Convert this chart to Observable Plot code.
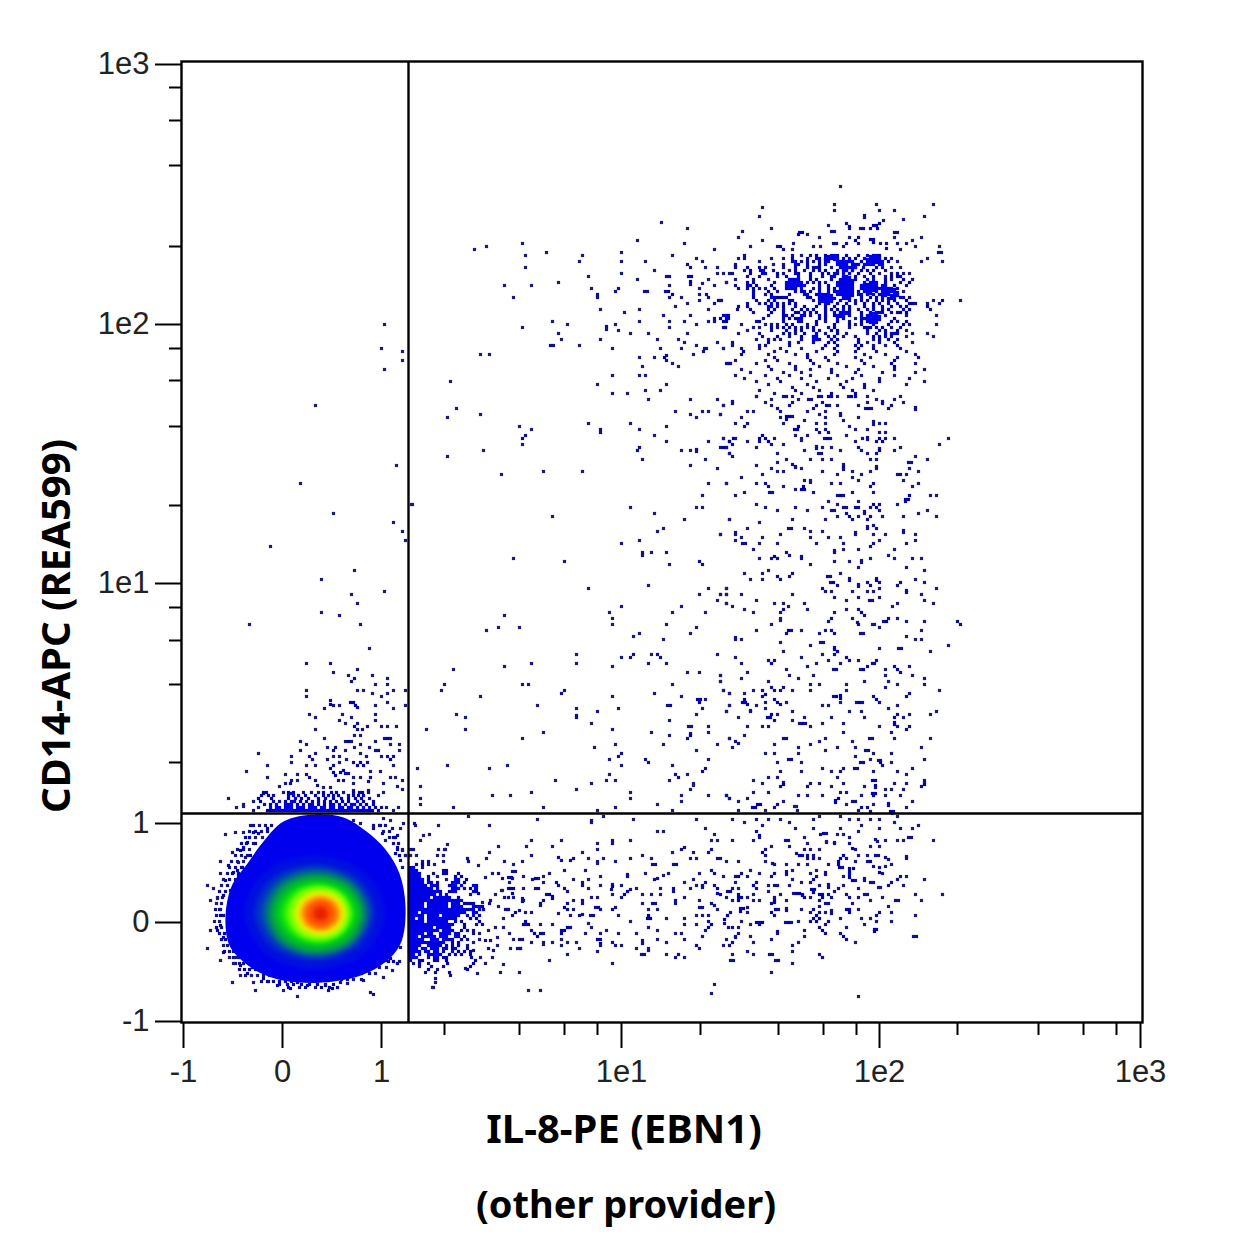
<!DOCTYPE html>
<html><head><meta charset="utf-8">
<script src="https://cdn.jsdelivr.net/npm/d3@7"></script>
<script src="https://cdn.jsdelivr.net/npm/@observablehq/plot@0.6"></script>
<style>html,body{margin:0;padding:0;background:#fff}svg{display:block}</style>
</head><body><div id="chart"></div>
<script>
// All positions are cytometer display channels, mapped through Plot's x and y scales.
const xTitle = "IL-8-PE (EBN1)";
const xSubtitle = "(other provider)";
const yTitle = "CD14-APC (REA599)";
const xMajorChannels = [0,99,198,438,696,957];
const xMajorLabels = ["-1","0","1","1e1","1e2","1e3"];
const xMinorChannels = [261,336,381,414,517,595,640,673,774,855,900,933];
const yMajorChannels = [0,99,198,438,697,957];
const yMajorLabels = ["-1","0","1","1e1","1e2","1e3"];
const yMinorChannels = [259,337,381,414,516,595,641,673,775,856,901,934];
const gateX = 225;
const gateY = 208;

// isolated events, [x,y,x,y,...]
const upperMiddleEvents = [478,799,504,793,454,781,501,778,339,778,303,775,291,772,531,772,342,766,363,769,399,766,438,769,489,766,513,763,519,760,396,760,438,760,462,760,504,757,507,754,522,754,534,754,342,754,471,751,438,748,534,748,546,748,405,745,483,745,486,745,505,745,508,745,454,742,525,742,375,739,507,740,507,737,519,738,516,733,543,739,321,736,348,736,486,736,531,736,408,733,435,733,432,730,461,730,464,730,482,730,485,730,414,727,414,724,489,727,486,724,516,727,523,727,525,724,330,724,498,724,516,721,535,721,538,721,504,718,531,718,492,715,417,712,456,712,525,712,441,709,480,706,507,706,543,706,369,700,456,700,486,700,501,700,525,700,531,703,531,700,537,703,543,703,543,700,542,694,540,694,384,697,432,697,513,697,339,694,423,695,423,692,486,694,435,691,375,688,447,688,465,688,504,688,378,682,417,682,474,682,495,682,501,679,534,679,367,676,370,676,396,676,513,676,429,673,477,673,498,673,540,673,521,673,520,670,523,673,510,667,297,667,306,667,456,664,471,664,483,666,481,664,483,661,489,658,495,655,459,655,544,658,547,658,429,646,456,646,462,646,267,640,414,637,483,637,462,631,477,631,429,628,444,628,465,622,507,622,534,622,540,616,273,613,492,610,519,610,525,610,507,607,537,607,297,607,264,604,513,604,405,598,447,598,336,595,483,595,348,592,456,592,417,592,417,589,342,586,339,583,471,586,540,583,546,580,483,580,525,580,339,577,456,574,454,571,537,574,543,574,300,571,498,571,507,571,513,572,513,570,546,568,264,565,459,562,522,562,507,556,534,553,360,550,399,550,318,547,525,538,543,538,519,526,229,517,447,514,513,514,519,514];
const lowerMiddleEvents = [369,505,471,508,501,502,546,502,474,490,480,493,537,487,456,481,438,478,459,469,459,466,468,469,483,469,330,463,381,460,516,460,519,457,486,457,405,433,465,436,525,433,543,433,516,427,537,427,543,427,534,421,543,418,438,415,498,415,426,409,489,409,522,409,321,406,429,403,429,397,483,397,315,394,336,394,513,394,303,391,507,388,456,388,450,385,480,382,393,367,450,367,447,364,438,364,468,367,474,367,477,364,534,367,348,358,393,358,465,358,483,358,321,355,429,355,270,352,504,349,516,349,537,346,537,340,261,337,339,337,345,337,489,337,258,331,381,331,378,328,540,331,546,328,471,328,297,325,429,325,498,325,514,322,517,322,516,319,522,322,354,316,484,316,487,316,546,316,393,313,435,313,519,313,414,310,543,310,273,307,513,307,393,306,393,304,282,304,486,301,408,298,505,295,508,295,525,295,243,292,282,292,429,292,360,289,468,289,507,288,507,286,525,289,486,286,339,283,504,283,546,283,432,277,480,277,534,277,411,274,513,271,438,268,435,265,426,262,462,262,465,259,525,262,264,256,324,256,438,256,489,256,234,253,306,253,522,253,519,250,426,247,492,247,495,244,504,247,372,241,423,241,432,241,486,241,408,238,510,238,510,236,507,232,237,235,393,232,447,229,348,229,309,226,327,226,498,226,525,226,543,226,546,223,237,223,447,223,498,220,237,217,474,217,270,214,360,214,432,214,414,211,489,211];
const tailEvents = [285,205,354,202,408,201,408,199,420,205,450,202,513,202,231,198,255,196,306,196,522,193,474,190,480,190,531,187,240,186,246,187,237,181,348,181,378,181,429,181,429,178,447,181,528,181,534,181,414,178,369,175,343,175,315,175,264,177,261,172,414,172,501,174,498,172,528,172,525,169,255,172,306,169,399,169,489,169,510,169,348,166,303,163,375,164,378,161,387,161,390,163,405,163,420,163,447,163,459,166,468,163,507,163,513,163,534,163,284,163,285,160,321,160,339,160,414,160,414,158,432,160,469,157,472,157,490,157,493,157,330,157,295,156,329,150,332,150,381,151,402,151,480,146,485,148,462,148,366,148,315,148,516,148,528,151,531,148,444,147,444,145,417,145,390,142,405,142,474,143,471,142,340,145,325,144,328,144,352,143,355,143,349,142,360,145,360,139,373,139,375,136,381,133,384,130,510,142,399,139,399,136,417,136,429,137,429,135,428,132,501,139,522,139,519,134,519,136,513,136,531,136,326,139,438,136,405,133,444,130,441,127,438,124,447,132,453,133,477,133,477,127,490,133,490,130,340,133,325,133,330,133,318,131,352,133,355,133,507,133,534,133,534,128,363,127,366,127,369,125,369,123,459,127,468,127,390,121,399,121,399,118,408,124,414,124,429,127,501,124,516,121,339,123,339,120,312,127,321,124,330,124,492,121,492,118,329,128,357,118,357,116,360,121,469,118,472,118,528,118,516,114,519,114,384,118,381,114,384,112,390,112,412,114,415,114,417,112,432,114,429,112,459,118,474,112,465,112,534,112,531,116,375,108,348,109,342,109,336,111,332,109,329,106,322,112,325,112,435,106,387,106,396,106,399,107,407,106,410,106,465,106,464,103,467,103,513,106,519,106,525,106,501,103,483,103,447,100,342,100,342,97,340,97,345,97,405,98,408,94,369,97,357,97,501,97,513,97,525,100,528,97,525,94,522,91,384,94,387,94,381,91,378,91,423,91,417,88,465,94,474,91,348,91,351,88,354,85,357,88,360,88,435,88,453,88,492,88,498,88,378,88,402,88,519,85,378,82,414,82,417,82,417,78,417,76,429,79,438,76,459,81,459,78,474,82,501,82,336,82,339,82,334,73,337,73,348,79,360,79,360,77,369,79,384,79,393,79,378,76,396,73,483,79,513,76,516,73,432,76,453,73,465,73,465,71,414,70,384,67,458,67,461,67,483,67,495,67,492,64,501,64,366,61,429,58,336,49,345,31,357,31,531,37,528,28];
const tailRootEvents = [306,118,315,115,324,112,320,103,312,94,320,94,326,88,330,82,314,84,314,76,310,71,309,64,320,57,317,49,327,73,337,73,307,81,307,121,319,131,327,133,329,143,319,143,325,124,340,121,309,148,302,144,292,133,299,119,295,128,302,81,290,71,297,64,302,58,294,48,282,53,267,46,252,39,249,34];
const lowerRightEvents = [549,202,561,199,573,202,585,202,597,202,606,199,579,196,630,202,636,205,657,205,666,202,675,202,687,202,696,202,711,199,709,208,714,205,678,196,735,196,729,193,612,193,630,193,657,193,696,193,717,193,573,190,675,190,576,186,576,184,640,188,643,188,637,187,643,179,643,180,654,187,660,187,666,184,621,184,549,181,570,181,602,181,605,181,651,179,651,178,692,182,694,180,702,181,696,175,714,181,720,181,725,184,728,184,750,181,624,178,666,178,669,173,588,175,606,175,687,175,672,172,582,172,579,169,582,166,621,172,627,172,636,172,613,168,616,166,619,166,624,166,630,166,660,166,657,163,655,157,655,160,656,154,659,154,663,163,675,166,672,160,684,166,692,166,695,166,702,164,705,162,723,165,723,163,636,163,630,163,624,163,537,163,543,160,555,160,582,160,589,158,591,157,684,160,687,160,690,155,603,157,615,157,624,157,645,157,696,154,696,149,699,148,702,155,708,157,567,151,558,148,576,148,591,148,588,145,603,150,603,147,609,151,633,151,627,148,633,145,630,142,642,149,642,147,666,153,666,150,666,147,666,144,669,141,672,141,670,153,660,145,540,145,552,145,555,145,564,145,681,143,681,141,717,145,714,142,723,145,741,142,609,142,552,139,573,139,570,136,573,133,618,139,627,139,645,137,645,134,660,136,655,133,651,130,687,139,690,139,708,139,705,136,585,136,585,130,591,136,594,136,606,136,636,136,720,136,695,134,697,134,549,133,544,130,547,130,555,133,555,127,628,132,631,132,630,129,675,133,610,128,613,128,616,128,619,127,619,126,636,127,639,127,645,127,663,127,666,124,681,127,684,127,597,127,591,124,591,121,591,119,570,127,537,127,732,127,759,127,543,124,555,124,558,124,564,124,570,121,576,121,549,121,555,121,603,121,621,124,627,124,636,121,639,124,648,124,675,124,687,121,699,124,712,121,715,121,738,121,669,118,642,118,645,118,588,118,636,115,636,109,557,113,560,113,557,110,564,114,564,109,603,113,603,111,592,112,595,112,705,115,648,111,648,108,663,112,666,112,666,109,675,112,618,112,630,112,591,106,588,109,642,109,693,106,696,109,708,109,732,106,627,109,630,103,633,106,627,100,547,109,544,106,541,102,541,98,545,94,549,94,558,100,573,99,576,99,579,99,576,97,567,97,602,99,605,99,608,99,615,100,636,103,633,100,645,100,642,97,657,103,678,103,681,97,687,103,693,100,708,100,555,94,636,94,639,91,642,88,663,94,691,92,693,92,691,90,594,90,594,88,621,91,555,88,552,85,552,84,567,85,657,88,660,85,663,82,621,85,730,85,733,85,543,82,588,82,570,79,615,79,672,79,549,79,546,76,540,76,609,76,609,70,564,70,549,67,570,67,586,67,589,67,636,67,639,64,547,61,550,61,592,61,595,61,609,58,588,49,675,25];
const middleRightEvents = [549,415,561,412,570,409,600,412,597,409,605,415,624,412,651,409,663,412,675,412,678,409,681,406,709,415,597,403,597,401,648,403,645,400,669,403,674,399,675,397,689,397,691,397,696,394,700,400,703,400,705,403,714,403,723,400,741,400,774,400,777,397,588,397,573,391,605,391,608,391,603,388,618,391,636,388,642,391,648,391,651,388,677,388,680,388,738,391,552,384,552,382,558,382,723,385,732,382,738,382,597,379,637,379,640,379,627,376,651,374,651,372,654,370,651,367,696,373,715,373,718,373,765,376,747,370,600,370,639,367,552,364,618,364,663,364,666,361,645,361,675,361,693,361,689,358,691,358,684,355,585,361,591,361,588,358,558,358,657,358,633,358,624,355,711,355,714,352,717,349,726,355,603,352,650,352,653,352,677,352,680,352,702,352,564,349,537,346,537,340,606,346,630,346,702,346,729,346,558,343,615,343,741,343,585,340,681,340,705,340,627,337,636,337,663,337,714,337,741,337,702,334,588,334,591,331,600,334,597,331,540,331,570,331,579,331,582,327,579,325,609,331,627,331,663,331,756,331,546,328,561,328,657,326,657,323,650,325,653,325,726,328,723,325,690,325,693,322,696,319,561,322,559,319,562,319,564,317,567,311,567,310,591,322,594,319,597,317,582,319,573,316,603,319,657,319,673,319,676,319,679,319,546,316,639,316,645,316,714,316,582,313,705,313,543,310,609,310,666,310,678,310,753,310,747,307,594,307,588,307,584,304,587,304,714,307,711,304,726,307,555,304,621,304,609,301,648,304,681,304,591,301,720,304,711,299,711,297,714,295,616,298,619,298,622,298,639,298,660,298,579,295,585,295,564,295,627,295,696,295,726,295,723,292,660,289,708,289,561,286,546,283,552,280,555,278,549,274,600,283,603,283,642,283,636,280,686,283,689,283,711,283,747,283,669,280,627,277,591,277,615,274,654,274,672,274,738,274,642,271,682,271,685,271,582,268,591,268,615,268,690,268,708,268,672,265,605,262,608,262,741,262,687,262,695,261,697,261,697,259,699,256,594,259,618,259,677,259,680,259,708,259,639,253,660,253,657,250,654,244,671,253,674,253,729,253,597,250,618,250,648,250,690,250,714,250,723,247,585,244,594,244,600,239,600,237,597,235,741,241,741,239,741,237,738,235,570,241,579,238,689,241,692,241,692,236,692,234,627,238,624,235,636,238,660,238,711,238,723,238,648,235,681,235,702,232,708,232,720,232,663,229,657,229,570,229,585,229,689,228,692,228,690,226,543,226,546,223,615,226,624,226,639,226,678,226,702,226,717,226,555,220,564,223,600,220,652,221,652,219,655,223,669,220,672,220,663,217,705,218,705,216,729,220,690,217,574,217,577,217,569,214,572,214,594,217,591,214,611,215,613,215,614,211,582,211,678,214,684,214,687,210,723,214,555,211,675,211,707,210,710,210];
const upperRightEvents = [549,620,549,618,573,625,588,622,582,619,588,616,600,625,603,625,615,622,609,619,606,616,625,622,628,622,635,625,638,625,639,619,645,625,654,625,665,625,668,625,672,625,693,622,699,620,699,618,711,622,708,616,705,613,717,625,720,619,732,614,732,612,540,616,564,610,570,610,594,613,597,610,684,619,643,616,646,616,654,616,633,616,630,613,675,616,682,613,685,613,688,613,624,610,657,608,657,606,636,607,642,610,642,604,642,598,537,607,558,604,597,604,603,605,606,605,603,602,609,605,621,601,660,601,675,604,690,600,690,597,696,598,702,598,552,598,564,598,561,595,600,598,633,598,666,595,615,595,611,592,614,592,633,592,642,592,636,589,645,589,672,592,684,592,696,589,702,589,612,586,624,586,663,586,579,586,576,583,582,583,576,580,591,583,585,580,588,577,540,583,550,583,552,583,546,580,549,577,564,580,600,577,618,583,618,581,641,583,644,583,647,583,684,584,684,582,679,583,696,583,702,583,699,580,693,580,711,583,672,580,765,583,756,577,633,575,633,573,639,574,648,574,675,574,678,571,696,573,696,571,540,574,543,574,573,574,717,574,711,571,621,571,657,571,594,568,684,568,693,568,635,568,638,568,546,568,549,565,732,565,603,562,627,562,639,562,648,562,687,562,693,562,744,562,594,559,609,557,612,555,612,554,660,557,660,554,660,552,693,555,693,553,725,559,728,559,573,556,618,553,588,553,726,553,594,550,600,550,639,550,669,550,687,550,735,550,579,547,654,547,678,547,714,547,717,547,723,547,558,544,669,544,675,541,720,541,621,541,627,541,627,539,543,538,573,538,582,538,585,535,600,535,648,538,657,538,690,538,687,535,735,538,729,535,620,535,618,532,621,532,612,532,561,529,586,529,589,529,630,529,669,529,690,529,552,526,654,526,657,526,660,526,747,526,753,526,726,526,722,522,725,522,722,520,645,520,675,520,573,517,654,517,690,517,687,514,696,517,696,511,693,514,714,517,582,514,612,514,639,514,660,514,663,514,672,514,675,514,681,510,681,508,594,511,624,511,648,511,651,511,735,508,744,511,654,505,663,508,666,505,669,502,675,505,687,505,684,502,699,505,720,505,753,505,546,502,609,502,642,502,576,499,684,495,684,493,690,496,693,493,564,493,605,493,608,493,621,493,627,490,672,489,672,487,720,491,720,489,552,489,552,487,537,487,597,487,639,490,732,487,732,481,558,484,579,484,627,484,645,484,657,484,690,487,702,487,552,481,696,481,559,478,562,478,576,478,594,478,633,478,660,478,690,478,687,475,723,478,570,472,651,471,651,469,660,472,675,472,711,472,603,469,606,466,705,466,711,463,591,465,588,463,594,463,618,465,618,463,576,463,678,461,678,459,687,463,729,463,738,463,651,460,666,460,627,457,723,454,675,454,585,451,741,451,561,448,579,448,594,445,597,442,609,448,606,445,657,448,644,445,647,445,666,443,666,441,693,443,693,441,567,442,579,442,732,442,647,439,650,439,741,439,675,437,675,435,684,439,687,436,696,439,696,433,717,439,714,436,654,436,543,433,543,427,537,427,639,433,642,430,648,430,669,430,684,430,690,430,723,431,723,429,753,433,558,427,609,427,651,424,675,424,696,424,738,427,741,421,573,421,663,421,686,421,689,421,600,418,591,418,621,418,714,418,750,418,543,418];
const clusterTopEvents = [657,835,579,814,576,805,651,817,651,811,693,817,696,811,711,811,750,817,681,806,681,804,741,805,720,802,588,793,645,796,648,790,651,790,559,790,555,784,616,789,619,789,624,787,615,787,663,798,666,795,666,793,677,793,680,793,687,793,690,796,693,796,700,801,696,798,694,793,711,789,714,789,711,784,579,781,636,784,666,784,675,784,672,781,687,782,690,782,729,781,738,784,567,775,594,775,597,775,600,772,610,778,609,772,630,775,637,775,650,778,653,778,660,775,663,778,675,778,690,779,697,778,703,778,703,773,714,778,717,772,723,778,732,775,756,775,755,769,758,769,744,763,759,760,738,760,561,766,561,763,555,763,552,757,552,755,576,760,588,763];
const gateColumnEvents = [201,697,198,673,219,670,219,661,201,652,132,616,213,556,117,538,228,517,150,508,210,499,219,490,222,481,87,475,171,451,138,442,201,430,168,427,174,418,138,409,156,406,66,397,177,397,186,373,123,358,147,358,150,349,174,352,165,346,171,343,168,340,189,346,204,343,204,337,192,337,123,331,123,325,174,331,180,331,210,331,222,331,189,328,204,328,198,325,147,321,147,317,150,316,156,316,167,319,170,319,172,316,174,314,192,316,204,319,210,313,222,316,141,313,126,307,132,304,159,307,168,304,156,301,162,298,192,307,192,301,174,298,171,295,174,292,179,292,184,295,198,295,204,295,213,295,132,292,171,286,177,286,204,283,201,283,207,283,141,283,165,280,168,280,162,280,117,280,192,280,123,277,144,274,152,274,150,271,177,277,171,274,186,274,207,277,216,277,192,271,195,271,117,271,216,271,162,271,75,268,132,268,126,265,129,262,108,265,150,265,156,265,177,268,183,265,198,265,204,265,210,265,207,262,108,259,144,262,156,259,163,262,170,259,177,259,184,259,180,256,84,256,123,256,132,256,150,256,147,253,150,249,152,246,174,256,210,256,63,250,160,251,157,249,162,248,165,248,187,250,197,250,102,247,114,247,123,247,84,244,170,244,177,244,187,244,207,244,212,244,108,241,114,241,126,244,132,241,155,241,160,241,170,238,185,240,219,241,96,235,102,238,107,238,134,236,140,234,147,234,200,238,214,235,80,228,90,226,219,232,45,223,107,228,170,231,179,229,185,231,200,229];
const blobEdgeEvents = [60,215,52,189,42,187,60,189,67,196,70,189,75,188,84,193,79,184,89,188,64,179,72,178,80,174,49,169,57,171,60,174,85,176,67,166,62,164,55,159,69,161,59,154,37,160,45,156,50,149,55,146,37,148,42,141,62,151,54,151,24,136,30,133,47,131,40,126,34,123,27,121,47,116,37,112,40,106,47,109,44,99,37,96,27,91,34,91,40,84,45,91,49,79,24,73,40,69,37,61,52,64,59,64,52,58,64,63,57,56,57,46,64,48,69,54,49,39,70,39,72,31,80,43,85,40,94,36,100,31,105,34,114,39,107,33,117,48,124,36,132,34,142,36,145,31,149,33,144,43,114,25,157,39,164,38,177,51,185,51,180,41,200,44,187,29,190,27,209,51,202,61,207,63,214,58,209,69,217,74,217,193,220,198,232,196,214,186,210,184,202,181,199,188,190,193,177,198,170,201,200,203,207,201,197,196,209,193,214,174,219,171,222,166,212,168,217,161,219,154];

// rows of dense events, [y,[x,...]]
const clusterRows = [[766,[609,618,627,633,642,648,651,654,663,675,684,690,693,696]],[763,[600,609,624,633,636,642,645,648,654,660,666,672,681,687,690,693,696,702,708]],[760,[609,612,618,624,630,636,642,645,654,657,660,666,678,684,687,690,693,696,699,705,714]],[757,[590,600,612,615,624,636,642,654,657,660,663,672,675,681,684,687,690,696,699]],[754,[552,564,576,582,600,612,624,630,633,636,648,657,660,663,666,669,672,680,693,699,708,717]],[751,[561,567,577,580,590,606,612,621,630,636,642,654,660,663,669,678,684,690,702]],[748,[540,549,567,579,582,594,600,612,615,627,639,645,651,654,660,666,675,687,696,708,714,720,726]],[745,[564,576,594,603,615,627,639,648,651,660,663,672,681,690,702,708,714,717]],[742,[552,570,585,606,609,612,615,627,633,648,657,660,663,666,672,684,690,702,708,720,729]],[739,[543,564,570,591,603,606,609,612,615,624,630,636,642,654,657,660,663,666,669,681,687,690,693,702,717,726]],[736,[552,564,567,573,588,603,606,609,612,621,636,645,654,657,660,663,666,678,681,684,687,690,693,699,702,711,723]],[733,[555,564,570,576,582,591,603,606,609,612,618,630,636,645,651,657,660,663,666,678,681,684,687,696,699,702,705,708,714]],[730,[570,585,594,612,618,621,627,636,645,651,654,657,660,663,675,681,687,693,699,702,705,708,720]],[727,[570,582,588,606,621,624,633,636,639,642,645,654,657,660,666,675,678,684,690,696,699,702,705,714]],[724,[570,588,591,594,597,600,603,624,627,636,639,642,645,648,660,666,678,687,693,699,717,720,726]],[721,[537,573,585,591,606,609,630,636,639,642,645,648,657,666,672,678,684,693,699,705,711,723,750,759,777]],[718,[564,576,582,588,594,600,606,612,636,642,645,654,663,672,681,690,696,705,714,726,729,732,744,756]],[715,[555,564,585,588,594,600,612,621,633,642,651,660,666,681,690,699,708,717,723,744]],[712,[554,567,585,591,600,609,618,624,630,642,648,654,660,666,675,684,690,699,705,720,726,747]],[709,[570,588,600,612,615,621,627,633,642,651,657,660,663,666,678,687,693,696,699,708,714,717,723]],[706,[540,545,585,600,603,609,618,621,627,636,642,651,654,657,660,666,678,684,687,690,693,702,723,753]],[703,[545,580,600,606,612,615,618,636,642,654,660,672,678,681,687,690,693,711]],[700,[540,573,576,600,615,618,633,642,654,666,678,684,687,690,708,714,723]],[697,[558,582,588,594,603,609,624,633,651,666,672,678,690,705,720,726,753]],[694,[542,570,576,588,594,600,606,612,618,624,630,645,651,666,681,684,687,693,699,708,717]],[691,[564,588,603,612,618,630,636,648,654,684,696,702,714,723]],[688,[555,576,600,606,612,621,633,642,654,663,684,693,702,708,711,714,729,744]],[685,[579,594,606,618,630,633,645,651,660,672,690,696,702,708,723,750]],[682,[573,585,591,597,618,630,633,648,654,675,690,696,705,714]],[679,[549,585,606,615,630,645,651,675,684,696,711,729]],[676,[549,576,582,606,642,654,672,678,690,702,714]],[673,[540,558,576,597,618,639,651,675,690,717]],[670,[560,591,603,633,654,672,693,723]],[667,[558,585,612,624,651,681,702,732]],[664,[591,624,642,672,687,714,735]],[661,[552,582,594,627,645,678,711]],[658,[543,546,573,606,630,654,681,708,732]],[655,[585,612,636,663,690,711]],[652,[558,588,612,627,648,675,711,741]],[649,[567,600,618,648,672,699,732]],[646,[552,582,606,627,654,678,711]],[643,[561,594,618,645,669,696,726]],[640,[573,597,633,663,696,741]],[637,[585,624,657,681,723]],[634,[609,630,660,681]],[631,[576,612,636,669,690]],[628,[591,618,648,672]],[625,[573,609,648,684]]];
const clusterCoreRows = [[765,[645,648,651,687,690,693]],[762,[642,645,651,654,684,687,690,696]],[760,[660,663,666,669]],[759,[687,690,693]],[757,[657,660,663,669,672]],[754,[657,663,666,669,672]],[751,[660,663,669]],[744,[660,663,666]],[742,[609,612,615]],[741,[657,660,663,666,669]],[739,[606,609,615,618]],[738,[657,660,663,666,669]],[737,[681,684,687,690]],[736,[606,612,615,618]],[735,[657,660,663,666,669]],[734,[678,681,687,690,693]],[733,[609,612]],[732,[657,660,663,666,669,705,708,711]],[731,[681,684,690,693]],[729,[660,663,666,669,702,705,711,714]],[728,[684,687]],[726,[639,642,645,648,660,663,666,669,702,708,711,714]],[723,[636,639,642,648,651,660,663,705,708,711]],[720,[639,642,645,648]],[708,[657,660,663,687,690,693]],[705,[654,657,660,684,687,693,696]],[702,[684,687,690,693,696]],[699,[687,690,693]],[685,[630,633]],[682,[633,636]]];
const shoulderRows = [[172,[227,230,262]],[166,[227,233,260,254]],[160,[239,245,260]],[157,[233,239,245,251]],[154,[227,230,239]],[151,[227,230,233,260,263]],[148,[227,230,233,236,250,260,263,275]],[145,[227,230,233,236,245,254,272,278]],[142,[227,230,233,236,239,245,263,272,275,283]],[139,[227,230,233,236,239,245,248,254,269,272,275,281]],[136,[227,230,233,236,239,242,248,251,254,266,269,272,278,290,293]],[133,[227,230,233,236,239,242,245,248,254,269,272,275,281,287,293]],[130,[227,230,233,236,239,242,245,248,251,254,257,266,269,272,290,293]],[127,[227,230,233,236,239,242,245,248,251,257,263,287]],[124,[227,230,233,236,239,242,245,251,254,257,260,263,266,275]],[121,[227,230,233,236,239,242,245,248,251,254,257,260,263,266,269,272,275,278]],[118,[227,230,233,236,239,245,248,251,254,257,260,263,269,272,275,281,284,287,290]],[115,[227,230,233,236,239,245,248,251,254,257,260,263,269,272,275,278,290,293,296,299]],[112,[227,230,233,236,239,242,245,248,251,254,257,260,263,266,269,272,275,278,281,284,287,290,296,300]],[109,[227,230,233,239,242,245,248,251,254,257,260,263,266,269,272,275,278,281,290,293]],[106,[227,230,233,236,239,245,248,251,254,260,263,266,269,272,275,284,290,296]],[103,[227,230,236,239,245,248,251,254,257,260,263,266,269,272,287,293]],[100,[227,230,233,236,239,245,248,251,254,257,260,263,272,278,296]],[97,[227,230,233,236,239,242,245,248,251,254,257,260,263,266,269,281,293,299]],[94,[227,230,233,236,239,242,245,248,254,257,260,263,266,281]],[91,[227,230,233,236,239,242,245,248,251,254,260,263,266,269,278,284,290,305]],[88,[227,230,233,236,239,245,248,257,260,263,266,272,275,290,296]],[85,[227,230,233,239,242,245,248,251,257,260,263,272,275,281]],[82,[227,230,233,236,239,248,251,254,260,263,266,269,278,284,296]],[79,[227,230,233,236,239,242,245,248,251,254,257,260,269,275,290]],[76,[227,230,233,236,245,248,251,254,257,263,269,275,284]],[73,[227,230,233,239,242,248,251,254,260,263,269,272,284,305]],[70,[227,230,233,236,242,245,251,254,260,269,275,281,287]],[67,[227,230,236,245,248,251,254,257,266,272,278,287]],[64,[227,230,233,245,251,254,260,263,288]],[61,[227,236,239,251,254,263,292]],[58,[230,236,245,264,290]],[55,[236,248,260,287]],[52,[245,254,284]],[49,[242,252,266]],[43,[252]],[34,[250]]];
const blobTopRows = [[229,[80,83,100,105,110,120,128,135,140,148,153,160,170,176,185]],[226,[78,85,105,110,115,122,132,140,145,150,155,165,170,175,180,195]],[223,[75,88,105,112,118,125,135,142,150,158,165,172,178,186]],[220,[70,77,90,96,102,108,111,117,123,129,135,141,147,153,159,165,174,180,190]],[217,[60,81,87,93,102,105,108,114,120,126,129,135,141,147,150,156,162,168,171,177,183,190]],[214,[53,75,87,93,96,102,105,108,114,117,120,126,129,132,138,141,147,150,156,159,165,168,174,180,186,192,198,203,215]],[211,[70,84,87,90,93,96,99,102,105,108,111,114,117,120,123,126,129,132,135,138,141,144,147,150,153,156,159,162,165,168,171,174,177,180,183,186,189,195,210]]];
const blobFringeRows = [[196,[70,76,82,88,190,196,202]],[190,[66,72,78,84,200,206]],[184,[62,66,72,206,212]],[178,[58,63,70,210,215]],[172,[54,60,66,214,219]],[166,[52,58,64,216,222]],[160,[48,54,60]],[154,[46,52,58]],[148,[44,49,55]],[142,[40,46,52]],[136,[38,44]],[130,[36,42]],[124,[34,39]],[118,[33,38]],[112,[32,36]],[106,[33,37]],[100,[31,36]],[94,[33,38]],[88,[36,41]],[82,[38,42]],[76,[40,44]],[70,[41,46,50]],[64,[46,50,55]],[60,[205,210,216]],[58,[50,56,60,66]],[54,[190,196,203]],[52,[56,61,66,72]],[48,[172,178,186,192]],[46,[62,68,74,80,86]],[42,[158,164,170,178]],[40,[78,84,90,96,102,108]],[37,[96,104,110,118,126,134,142,150]],[34,[116,122,138,146,154]]];

// density contours of the main population, outermost first
const contourColors = ["#0000ee","#0010e0","#0030c8","#005aa0","#008070","#00a840","#00c820","#10e808","#50fa00","#a0ff00","#f0f000","#ffc000","#ff8000","#ff5000","#e82000"];
const contourX = [
[130,160,183,202,216,222,218,205,180,150,115,85,62,46,42,48,64,80,100],
[201,181,131,81,61,81,131,181],
[191,174,131,88,71,88,131,174],
[186,170,132,94,78,94,132,170],
[183,169,133,97,83,97,133,169],
[179,166,133,100,87,100,133,166],
[176,164,134,104,92,104,134,164],
[171,160,134,108,97,108,134,160],
[168,158,135,112,102,112,135,158],
[165,157,136,115,107,115,136,157],
[161,154,137,120,113,120,137,154],
[158,152,137,122,116,122,137,152],
[155,150,137,124,119,124,137,150],
[151,147,137,127,123,127,137,147],
[144,142,137,132,130,132,137,142]];
const contourY = [
[207,204,190,172,148,115,80,62,47,40,39,45,58,76,105,135,158,180,200],
[109,149,166,149,109,69,52,69],
[109,143,157,143,109,75,61,75],
[109,140,153,140,109,78,65,78],
[108,137,149,137,108,79,67,79],
[108,135,146,135,108,81,70,81],
[108,132,142,132,108,84,74,84],
[108,129,138,129,108,87,78,87],
[108,128,136,128,108,88,80,88],
[108,126,133,126,108,90,83,90],
[108,123,129,123,108,93,87,93],
[108,121,126,121,108,95,90,95],
[108,119,124,119,108,97,92,97],
[108,117,121,117,108,99,95,99],
[108,113,115,113,108,103,101,103]];

const flat = [upperMiddleEvents,lowerMiddleEvents,tailEvents,tailRootEvents,lowerRightEvents,middleRightEvents,upperRightEvents,clusterTopEvents,gateColumnEvents,blobEdgeEvents];
const events = [];
for (const list of flat) for (let i=0;i+1<list.length;i+=2) events.push({x:list[i],y:list[i+1]});
for (const rows of [clusterRows,clusterCoreRows,shoulderRows,blobTopRows,blobFringeRows]) for (const [y,xs] of rows) for (const x of xs) events.push({x,y});

// colour each event by how many neighbours it has, like the density plot
const occupied = d3.group(events, d=>Math.round(d.x/3), d=>Math.round(d.y/3));
for (const e of events) {
  const cx=Math.round(e.x/3), cy=Math.round(e.y/3); let n=0;
  for (let a=-1;a<=1;a++) for (let b=-1;b<=1;b++) if ((a||b) && occupied.get(cx+a)?.has(cy+b)) n++;
  e.color = n>=4 ? "#0000e6" : n>=2 ? "#0000b0" : n>=1 ? "#10108c" : "#1a1a78";
}

const contourMarks = contourColors.map((color,i)=>Plot.line(contourX[i].map((x,j)=>({x,y:contourY[i][j]})),{x:"x",y:"y",fill:color,stroke:"none",curve:"catmull-rom-closed",imageFilter:i?"blur(2px)":"blur(0.6px)"}));

const titleStyle = {fontFamily:"Noto Sans",fontWeight:"bold",fill:"#000",lineAnchor:"middle",textAnchor:"middle"};
const chart = Plot.plot({
  width:1250,height:1250,
  marginLeft:181,marginRight:108,marginTop:61,marginBottom:228,
  style:{fontFamily:"Liberation Sans",background:"#fff",color:"#000",overflow:"visible"},
  x:{domain:[-2,959],label:null,axis:null},
  y:{domain:[-1,960],label:null,axis:null},
  color:{type:"identity"},
  marks:[
    Plot.dot(events,{x:"x",y:"y",symbol:"square",r:1.8,fill:"color",stroke:"none"}),
    ...contourMarks,
    Plot.ruleX([gateX],{stroke:"#000",strokeWidth:2.4}),
    Plot.ruleY([gateY],{stroke:"#000",strokeWidth:2.4}),
    Plot.frame({stroke:"#000",strokeWidth:2.4}),
    Plot.ruleX(xMinorChannels,{y1:-1,y2:-14,stroke:"#000",strokeWidth:2}),
    Plot.ruleY(yMinorChannels,{x1:-2,x2:-14,stroke:"#000",strokeWidth:2}),
    Plot.axisX({anchor:"bottom",ticks:xMajorChannels,tickFormat:d=>xMajorLabels[xMajorChannels.indexOf(d)],tickSize:26,tickPadding:11,fontSize:31,strokeWidth:2,label:null,stroke:"#000",fill:"#222"}),
    Plot.axisY({anchor:"left",ticks:yMajorChannels,tickFormat:d=>yMajorLabels[yMajorChannels.indexOf(d)],tickSize:26,tickPadding:6,fontSize:31,strokeWidth:2,label:null,stroke:"#000",fill:"#222"}),
    Plot.text([xTitle],{...titleStyle,text:d=>d,frameAnchor:"bottom",dx:-38,dy:108,fontSize:40}),
    Plot.text([xSubtitle],{...titleStyle,text:d=>d,frameAnchor:"bottom",dx:-36,dy:183,fontSize:38}),
    Plot.text([yTitle],{...titleStyle,text:d=>d,frameAnchor:"left",dx:-124,dy:84,rotate:-90,fontSize:40})
  ]
});
document.getElementById("chart").append(chart);
</script>
</body></html>
